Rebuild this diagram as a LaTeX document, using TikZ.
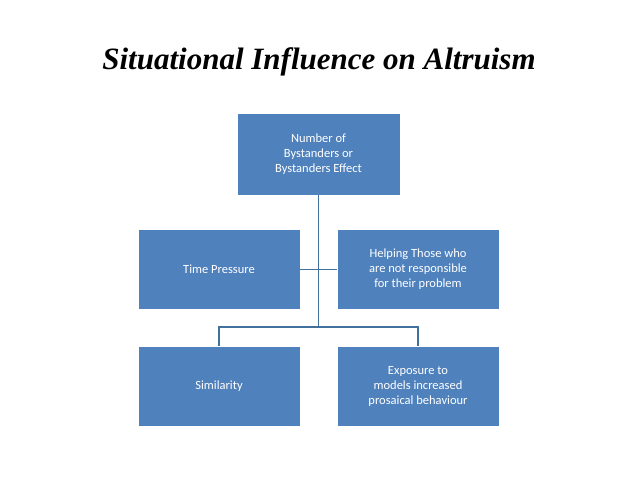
\documentclass[tikz,border=0pt]{standalone}
\usepackage{fontspec}
\setmainfont{Carlito}
\newfontfamily\titlefont{Liberation Serif}
\definecolor{boxblue}{HTML}{4F81BD}
\definecolor{lineblue}{HTML}{41719C}
\begin{document}
\begin{tikzpicture}[x=1pt,y=-1pt,
  bx/.style={draw=white,line width=0.8pt,fill=boxblue,text=white,minimum width=162pt,minimum height=80pt,align=center,font=\fontsize{12.5}{15}\selectfont,inner sep=1pt},
  conn/.style={draw=lineblue,line width=1.2pt}]
\useasboundingbox (0,0) rectangle (638,478);
\node[font=\titlefont\bfseries\itshape\fontsize{31}{36}\selectfont] (title) at (319,62) {Situational Influence on Altruism};
\node[bx,minimum width=163pt,minimum height=82pt] (top) at (318.5,154) {Number of\\Bystanders or\\Bystanders Effect};
\node[bx] (tp) at (219,269.5) {Time Pressure};
\node[bx] (hp) at (418,269.5) {Helping Those who\\are not responsible\\for their problem};
\node[bx] (sim) at (219,386) {Similarity};
\node[bx] (exp) at (418,386) {Exposure to\\models increased\\prosaical behaviour};
\coordinate (j) at (318.5,327);
\draw[conn] (top.south) -- (j);
\draw[conn] (tp.east) -- (hp.west);
\draw[conn] (sim.north) |- (j) -| (exp.north);
\end{tikzpicture}
\end{document}
